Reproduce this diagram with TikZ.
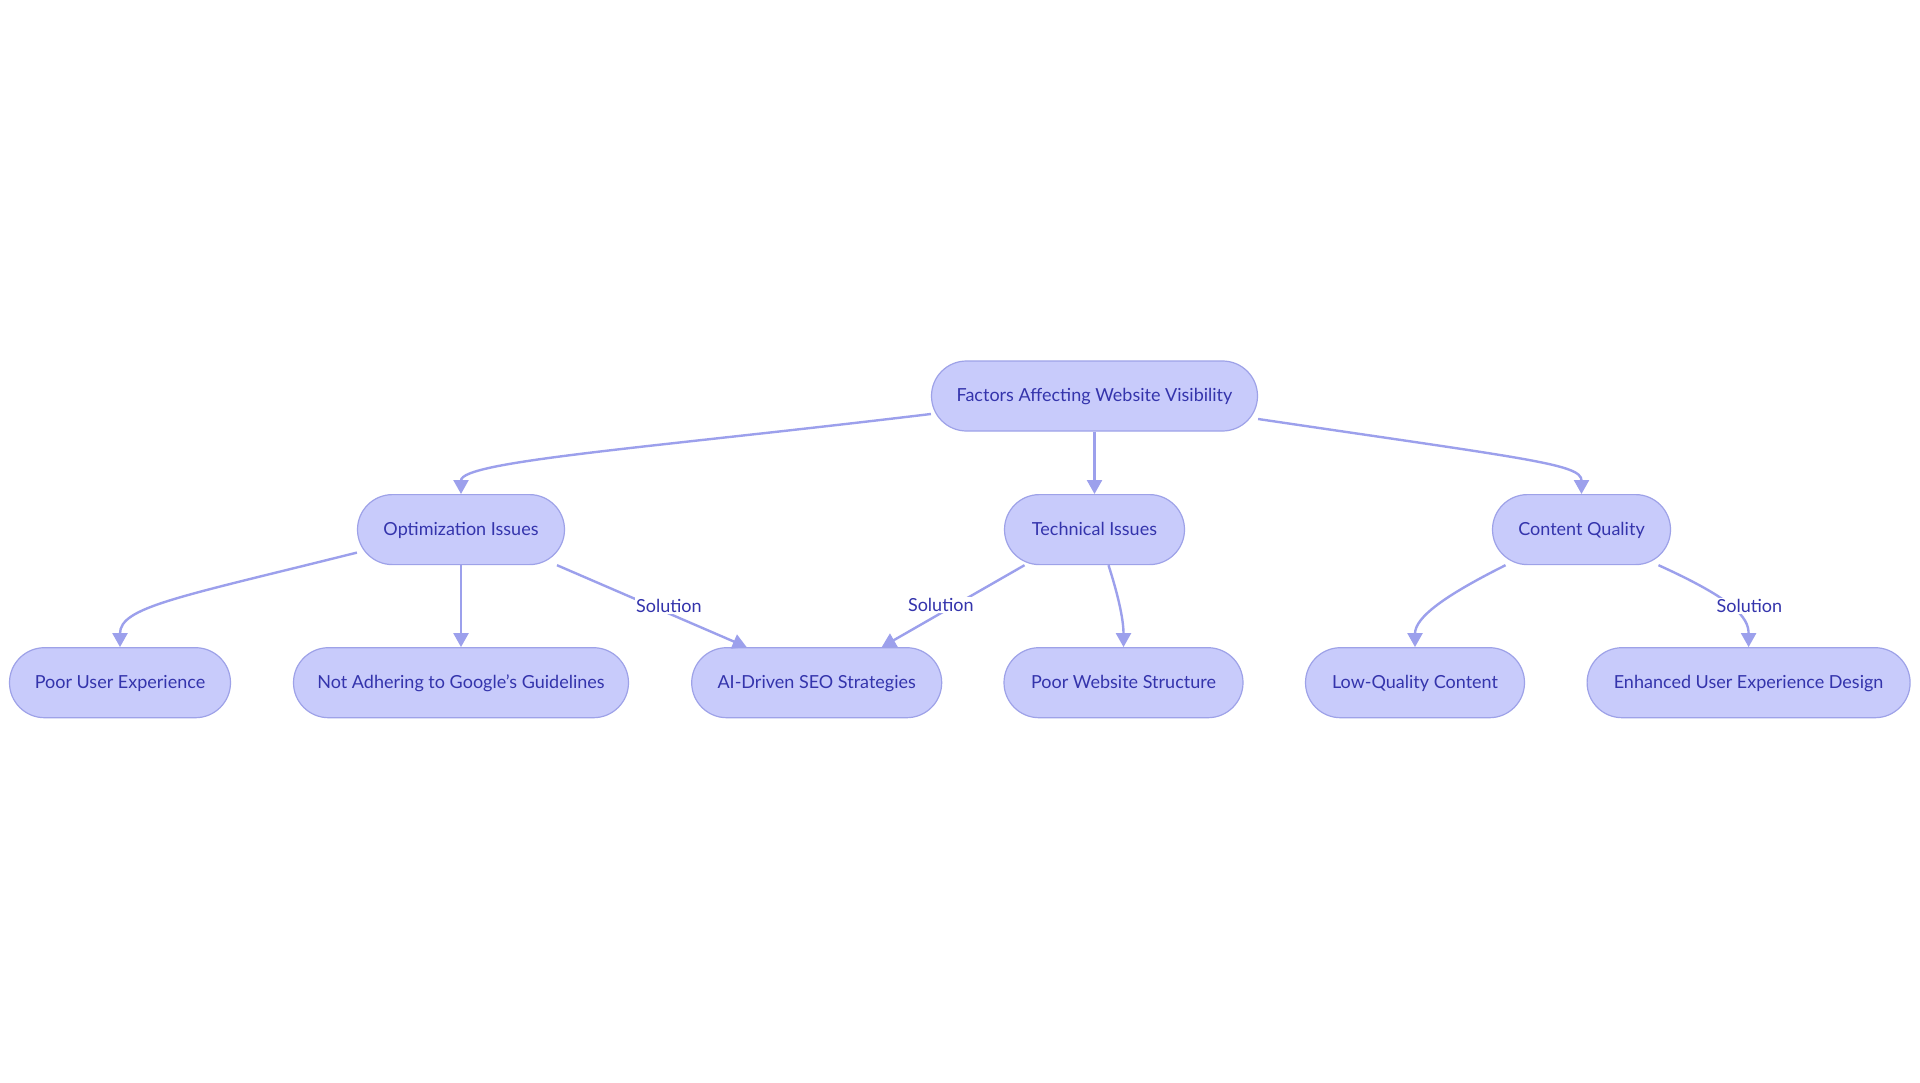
\documentclass[tikz,border=0pt]{standalone}
\usepackage{fontspec}
\setmainfont{Lato}
\usetikzlibrary{arrows.meta,calc}
\definecolor{nodefill}{RGB}{200,203,251}
\definecolor{nodeline}{RGB}{158,162,232}
\definecolor{txt}{RGB}{52,52,172}
\definecolor{edge}{RGB}{156,160,236}
\tikzset{
  box/.style={draw=nodeline, line width=1.2pt, fill=nodefill, rounded corners=35pt,
    minimum height=70pt, inner sep=0pt, text=txt, font=\fontsize{18}{21}\selectfont,
    text height=1.17em, text depth=0pt},
  link/.style={draw=edge, line width=2.4pt, -{Triangle[length=14pt,width=15pt]}},
  lbl/.style={fill=white, text=txt, inner sep=1.5pt, font=\fontsize{18}{21}\selectfont}
}
\begin{document}
\begin{tikzpicture}[x=1pt,y=-1pt]
\path[use as bounding box, fill=white] (0,0) rectangle (1920,1083);
\node[box, minimum width=326pt] (root) at (1094.5,396) {Factors Affecting Website Visibility};
\node[box, minimum width=207pt] (opt) at (461,529.6) {Optimization Issues};
\node[box, minimum width=180pt] (tech) at (1094.5,529.6) {Technical Issues};
\node[box, minimum width=178pt] (cont) at (1581.5,529.6) {Content Quality};
\node[box, minimum width=221pt] (pux) at (120,682.7) {Poor User Experience};
\node[box, minimum width=335pt] (nag) at (461,682.7) {Not Adhering to Google's Guidelines};
\node[box, minimum width=250pt] (ai) at (816.7,682.7) {AI-Driven SEO Strategies};
\node[box, minimum width=239pt] (pws) at (1123.5,682.7) {Poor Website Structure};
\node[box, minimum width=219pt] (lq) at (1415,682.7) {Low-Quality Content};
\node[box, minimum width=323pt] (enh) at (1748.6,682.7) {Enhanced User Experience Design};

\draw[link] ([yshift=-18pt]root.west) .. controls +(-282,34) and +(0,-33) .. (opt.north);
\draw[link] (root.south) -- (tech.north);
\draw[link] ([yshift=-23pt]root.east) .. controls +(270,40) and +(0,-30) .. (cont.north);
\draw[link] ([yshift=-23pt]opt.west) .. controls +(-180,45) and +(0,-40) .. (pux.north);
\draw[link] (opt.south) -- (nag.north);
\draw[link] ([xshift=96pt]opt.south) -- node[lbl, pos=0.59, yshift=8pt] {Solution} ([xshift=-70pt]ai.north);
\draw[link] ([xshift=-70pt]tech.south) -- node[lbl, pos=0.586, yshift=8pt] {Solution} ([xshift=65pt]ai.north);
\draw[link] ([xshift=14pt]tech.south) .. controls +(8,25) and +(0,-30) .. (pws.north);
\draw[link] ([xshift=-76pt]cont.south) .. controls +(-60,30) and +(0,-30) .. (lq.north);
\draw[link] ([xshift=77pt]cont.south) .. controls +(75,34) and +(0,-30) .. node[lbl, pos=0.45, xshift=22pt, yshift=-2pt] {Solution} (enh.north);
\end{tikzpicture}
\end{document}
